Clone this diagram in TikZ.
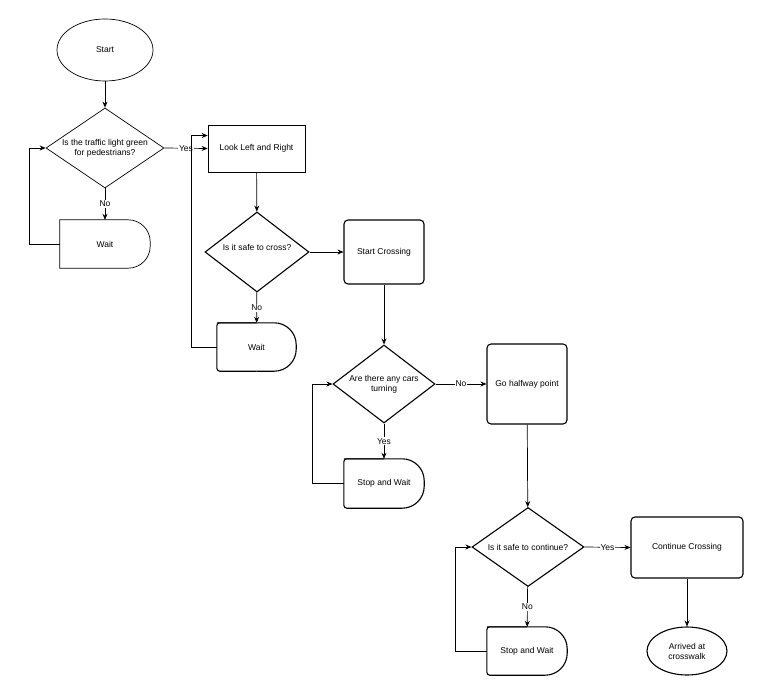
\documentclass[tikz,border=0pt]{standalone}
\usepackage{fontspec}
\setmainfont{Liberation Sans}
\usetikzlibrary{shapes.geometric,arrows.meta}
\begin{document}
\begin{tikzpicture}[x=1pt,y=-1pt,
  every node/.style={font=\fontsize{8.5}{10}\selectfont,align=center,inner sep=0pt},
  dia/.style={diamond,draw,line width=1.1pt},
  box/.style={rectangle,draw,line width=1.1pt,rounded corners=4pt},
  dl/.style={rectangle},
  ar/.style={-{Stealth[length=6pt,width=5pt]},line width=0.7pt},
  lb/.style={fill=white,inner sep=1pt}]
\useasboundingbox (0,0) rectangle (768,698);
% nodes
\node[ellipse,draw,line width=0.7pt,minimum width=96pt,minimum height=62pt] (start) at (105,50) {Start};
\node[dia,line width=0.7pt,minimum width=118pt,minimum height=80pt,aspect=1.5] (d1) at (105,148) {};
\node at (105,148) {Is the traffic light green\\for pedestrians?};
\node[dl,minimum width=90pt,minimum height=48pt] (w1) at (105,244) {Wait};
\node[rectangle,draw,line width=0.7pt,minimum width=97pt,minimum height=47pt] (look) at (256.5,148.5) {Look Left and Right};
\node[dia,minimum width=104pt,minimum height=80pt,aspect=1.3] (d2) at (257,252) {};
\node at (257,247) {Is it safe to cross?};
\node[box,minimum width=80pt,minimum height=64pt] (sc) at (384,252) {Start Crossing};
\node[dl,minimum width=79pt,minimum height=48pt] (w2) at (256.5,347) {Wait};
\node[dia,minimum width=102pt,minimum height=78pt,aspect=1.3] (d3) at (384,384) {};
\node at (384,384) {Are there any cars\\turning};
\node[box,minimum width=80pt,minimum height=80pt] (gh) at (527,384) {};
\node at (527,384) {Go halfway point};
\node[dl,minimum width=80pt,minimum height=49pt] (sw1) at (384,483.5) {Stop and Wait};
\node[dia,minimum width=112pt,minimum height=79pt,aspect=1.4] (d4) at (528,547) {};
\node at (528,547) {Is it safe to continue?};
\node[box,minimum width=112pt,minimum height=61pt] (cc) at (687,547.5) {Continue Crossing};
\node[ellipse,draw,line width=1.1pt,minimum width=80pt,minimum height=48pt] (arr) at (687,651) {Arrived at\\crosswalk};
\node[dl,minimum width=80pt,minimum height=48pt] (sw2) at (527,651) {Stop and Wait};
% delay shapes
\draw[line width=0.7pt] (w1.north west) -- (w1.north) [rounded corners=22pt] -- (w1.north east) -- (w1.south east) -- (w1.south) [sharp corners] -- (w1.south west) -- cycle;
\foreach \n in {w2,sw1,sw2}{
  \draw[line width=1.1pt,rounded corners=3pt] (\n.north) -- (\n.north west) -- (\n.south west) -- (\n.south);
  \draw[line width=1.1pt] (\n.north west) -- (\n.north) [rounded corners=22pt] -- (\n.north east) -- (\n.south east) -- (\n.south) ;
}
% connectors
\draw[ar] (start) -- (d1);
\draw[ar] (d1) -- node[lb]{No} (w1);
\draw[ar] (w1.west) -- ++(-30,0) |- (d1.west);
\draw[ar] (d1.east) -- node[lb]{Yes} (look.west);
\draw[ar] (look) -- (d2);
\draw[ar] (d2.east) -- (sc.west);
\draw[ar] (d2) -- node[lb]{No} (w2);
\draw[ar] (w2.west) -- ++(-25,0) |- ([yshift=13pt]look.west);
\draw[ar] (sc) -- (d3);
\draw[ar] (d3.east) -- node[lb]{No} (gh.west);
\draw[ar] (d3) -- node[lb]{Yes} (sw1);
\draw[ar] (sw1.west) -- ++(-31,0) |- (d3.west);
\draw[ar] (gh) -- (d4);
\draw[ar] (d4.east) -- node[lb]{Yes} (cc.west);
\draw[ar] (d4) -- node[lb]{No} (sw2);
\draw[ar] (sw2.west) -- ++(-31,0) |- (d4.west);
\draw[ar] (cc) -- (arr);
\end{tikzpicture}
\end{document}
